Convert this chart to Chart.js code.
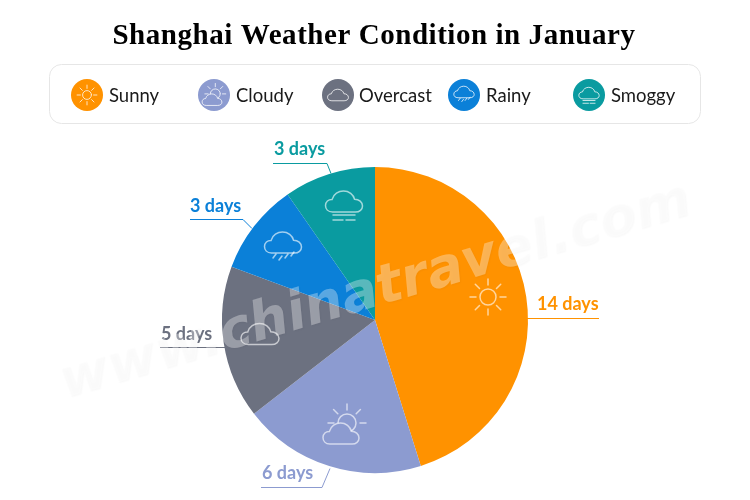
<!DOCTYPE html>
<html><head><meta charset="utf-8">
<style>html,body{margin:0;padding:0;background:#fff}#w{position:relative;width:750px;height:500px}</style>
<script src="https://cdn.jsdelivr.net/npm/chart.js@4"></script>
</head><body><div id="w"><canvas id="c" width="750" height="500"></canvas></div>
<script>
const categories = ["Sunny","Cloudy","Overcast","Rainy","Smoggy"];
const days = [14,6,5,3,3];
const colors = ["#FF9200","#8C9BD0","#6C7180","#0B80D8","#0A9BA0"];
const titleText = "Shanghai Weather Condition in January";
const watermark = "www.chinatravel.com";
const legendX = [87,214,338,464,589];
const legendTextX = [109,236,359,486,611];

function cloud(ctx,x,y,w,h,fill){
  const sx=w/37, sy=h/21;
  ctx.save();ctx.translate(x,y);ctx.scale(sx,sy);
  ctx.beginPath();
  ctx.moveTo(7,21);
  ctx.bezierCurveTo(2.5,21,0,18,0,14.5);
  ctx.bezierCurveTo(0,11,3,8.2,6.6,8.4);
  ctx.bezierCurveTo(8,3,13,0,18,0);
  ctx.bezierCurveTo(23.5,0,28,3.5,29,8.2);
  ctx.bezierCurveTo(33.5,8.2,37,11,37,15);
  ctx.bezierCurveTo(37,18.5,34,21,30,21);
  ctx.closePath();
  ctx.restore();
  if(fill){ctx.fillStyle=fill;ctx.fill();}
  ctx.stroke();
}
function sun(ctx,x,y,r,r1,r2,skip){
  ctx.beginPath();ctx.arc(x,y,r,0,Math.PI*2);ctx.stroke();
  for(let i=0;i<8;i++){
    if(skip&&skip.includes(i))continue;
    const a=i*Math.PI/4;
    ctx.beginPath();ctx.moveTo(x+r1*Math.cos(a),y+r1*Math.sin(a));
    ctx.lineTo(x+r2*Math.cos(a),y+r2*Math.sin(a));ctx.stroke();
  }
}
function icon(ctx,i,x,y,s,col,lw){
  ctx.save();ctx.translate(x,y);ctx.scale(s,s);
  ctx.strokeStyle=col;ctx.lineWidth=lw/s;ctx.lineCap="round";
  if(i===0){sun(ctx,0,0,8,12,18);}
  if(i===1){
    sun(ctx,6,-2,9,13,19,[1,2,3]);
    cloud(ctx,-18,-2,36,21,colors[1]);
  }
  if(i===2){cloud(ctx,-19,-10.5,38,21);}
  if(i===3){
    cloud(ctx,-18.5,-16,37,21);
    [[-9,9],[-3,11],[3,9],[9,7]].forEach(p=>{ctx.beginPath();ctx.moveTo(p[0]+2,p[1]-3);ctx.lineTo(p[0]-1,p[1]+1);ctx.stroke();});
  }
  if(i===4){
    cloud(ctx,-18.5,-14,37,21);
    ctx.beginPath();ctx.moveTo(-11,10);ctx.lineTo(11,10);ctx.moveTo(-11,15);ctx.lineTo(-1,15);ctx.moveTo(2,15);ctx.lineTo(11,15);ctx.stroke();
  }
  ctx.restore();
}

const leaders=[
 {pts:[[152,-2],[224,-2]],tx:162,ty:-10},
 {pts:[[-45,148],[-53,167],[-114,167]],tx:-113,ty:159},
 {pts:[[-150,27],[-215,27]],tx:-214,ty:20},
 {pts:[[-123,-92],[-132,-101],[-185,-101]],tx:-185,ty:-108},
 {pts:[[-44,-147],[-48,-157],[-102,-157]],tx:-101,ty:-165}
];
const iconPos=[[113,-23],[-34,105],[-115,14],[-92,-72],[-31,-115]];
const legendIconX=[0,-2,0,0,0];

const overlay={
  id:"overlay",
  beforeDatasetsDraw(ch){
    const ctx=ch.ctx;
    ctx.save();
    ctx.beginPath();ctx.roundRect(49.5,64.5,651,59,12);
    ctx.strokeStyle="#E6E6E6";ctx.lineWidth=1;ctx.stroke();
    categories.forEach((c,i)=>{
      ctx.beginPath();ctx.arc(legendX[i],95,16,0,Math.PI*2);ctx.fillStyle=colors[i];ctx.fill();
      icon(ctx,i,legendX[i]+legendIconX[i],95,0.55,"rgba(255,255,255,.85)",0.9);
      ctx.fillStyle="#1a1a1a";ctx.font="18.5px Lato";ctx.textBaseline="alphabetic";ctx.textAlign="left";
      ctx.fillText(c,legendTextX[i],102);
    });
    ctx.restore();
  },
  afterDatasetsDraw(ch){
    const ctx=ch.ctx, arcs=ch.getDatasetMeta(0).data, cx=arcs[0].x, cy=arcs[0].y;
    ctx.save();
    arcs.forEach((a,i)=>{
      icon(ctx,i,cx+iconPos[i][0],cy+iconPos[i][1],1,"rgba(255,255,255,.62)",1.5);
      const L=leaders[i];
      ctx.strokeStyle=colors[i];ctx.lineWidth=1;ctx.beginPath();
      L.pts.forEach((p,k)=>{const X=cx+p[0],Y=Math.round(cy+p[1])+.5;k?ctx.lineTo(X,Y):ctx.moveTo(X,Y);});
      ctx.stroke();
      ctx.fillStyle=colors[i];ctx.font="bold 18px Lato";ctx.textAlign="left";ctx.textBaseline="alphabetic";
      ctx.fillText(days[i]+" days",cx+L.tx,cy+L.ty);
    });
    ctx.translate(375,292);ctx.rotate(-16.4*Math.PI/180);
    ctx.font="italic bold 54px 'DejaVu Sans'";ctx.textAlign="center";ctx.textBaseline="middle";
    ctx.shadowColor="rgba(0,0,0,.09)";ctx.shadowBlur=2;ctx.shadowOffsetX=1;ctx.shadowOffsetY=1;
    ctx.fillStyle="rgba(255,255,255,.33)";
    ctx.fillText(watermark,0,0);
    ctx.restore();
  }
};

new Chart(document.getElementById("c"),{
  type:"pie",
  data:{labels:categories,datasets:[{data:days,backgroundColor:colors,borderWidth:0,hoverOffset:0}]},
  options:{
    responsive:false,animation:false,
    layout:{padding:{top:167,bottom:27,left:222,right:222}},
    plugins:{legend:{display:false},tooltip:{enabled:false},title:{display:false}}
  },
  plugins:[overlay,{id:"t",afterDraw(ch){const ctx=ch.ctx;ctx.save();ctx.fillStyle="#000";ctx.font="bold 29px 'Liberation Serif'";ctx.letterSpacing="0.55px";ctx.textAlign="center";ctx.textBaseline="alphabetic";ctx.fillText(titleText,374,44);ctx.restore();}}]
});
</script></body></html>
